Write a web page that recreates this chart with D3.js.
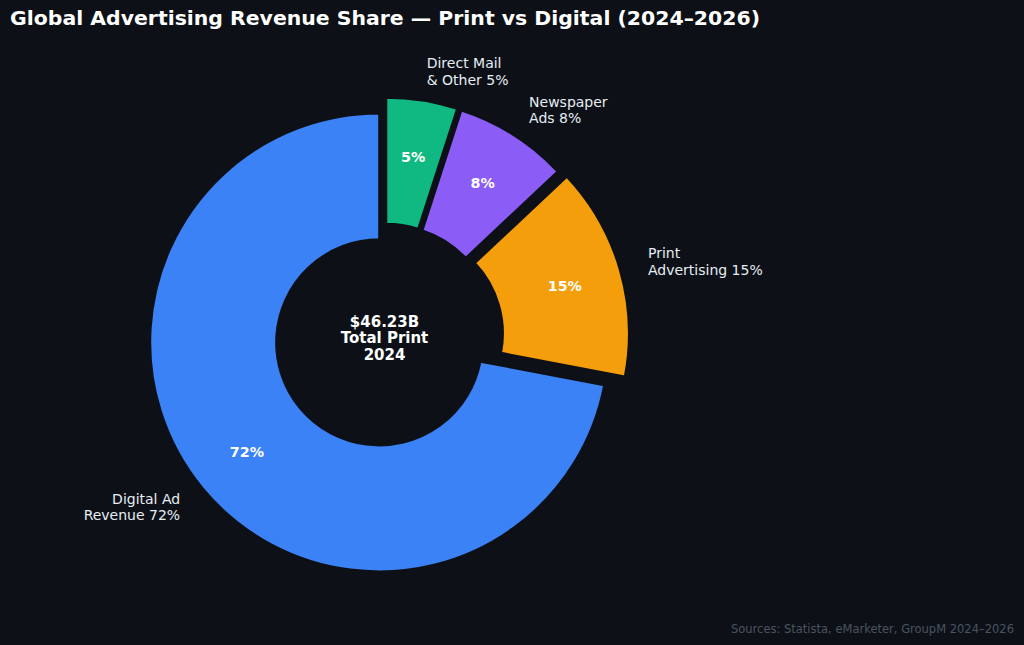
<!DOCTYPE html>
<html>
<head>
<meta charset="utf-8">
<script src="https://cdn.jsdelivr.net/npm/d3@7"></script>
<style>
  html, body { margin: 0; padding: 0; background: #0d1117; }
  svg { display: block; font-family: "DejaVu Sans", sans-serif; }
</style>
</head>
<body>
<svg id="chart" width="1024" height="645"></svg>
<script>
/* Data
   ========================================================================== */
var categories = ["Digital Ad Revenue", "Print Advertising", "Newspaper Ads", "Direct Mail & Other"];
// outer labels are split on two lines like the original
var labelLines = [["Digital Ad", "Revenue 72%"], ["Print", "Advertising 15%"], ["Newspaper", "Ads 8%"], ["Direct Mail", "& Other 5%"]];
var shares = [72, 15, 8, 5];
var explode = [0.03, 0.07, 0.05, 0.05];
var colors = ["#3b82f6", "#f59e0b", "#8b5cf6", "#10b981"];
var centerLines = ["$46.23B", "Total Print", "2024"];

/* Setup
   ========================================================================== */
var width = 1024, height = 645;
var cx = 384.5, cy = 338;
var radius = 229,
    inner = radius * 0.45;

var svg = d3.select("#chart");

svg.append("rect")
    .attr("width", width)
    .attr("height", height)
    .attr("fill", "#0d1117");

// Title
svg.append("text")
    .attr("x", 10)
    .attr("y", 25)
    .attr("fill", "#ffffff")
    .attr("font-size", 20)
    .attr("font-weight", "bold")
    .attr("textLength", 750)
    .attr("lengthAdjust", "spacingAndGlyphs")
    .text("Global Advertising Revenue Share \u2014 Print vs Digital (2024\u20132026)");

// Pie goes counter-clockwise from 12 o'clock (matplotlib style)
var pie = d3.pie()
    .sort(null)
    .startAngle(0)
    .endAngle(-2 * Math.PI)
    .value(function(d) { return d; });

var arcs = pie(shares);
arcs.forEach(function(d, i) {
    d.mid = (d.startAngle + d.endAngle) / 2;
    var off = explode[i] * radius;
    d.dx = Math.sin(d.mid) * off;
    d.dy = -Math.cos(d.mid) * off;
});

var arc = d3.arc()
    .innerRadius(inner)
    .outerRadius(radius);

var g = svg.append("g")
    .attr("transform", "translate(" + cx + "," + cy + ")");

// Wedges
g.selectAll(".slice")
    .data(arcs)
    .enter().append("path")
    .attr("class", "slice")
    .attr("transform", function(d) { return "translate(" + d.dx + "," + d.dy + ")"; })
    .attr("d", arc)
    .attr("fill", function(d, i) { return colors[i]; })
    .attr("stroke", "#0d1117")
    .attr("stroke-width", 2);

// Percent labels inside wedges
var pctR = radius * 0.75;
g.selectAll(".pct")
    .data(arcs)
    .enter().append("text")
    .attr("class", "pct")
    .attr("x", function(d) { return d.dx + Math.sin(d.mid) * pctR; })
    .attr("y", function(d) { return d.dy - Math.cos(d.mid) * pctR; })
    .attr("dy", "0.35em")
    .attr("text-anchor", "middle")
    .attr("fill", "#ffffff")
    .attr("font-size", 14.3)
    .attr("font-weight", "bold")
    .text(function(d, i) { return shares[i] + "%"; });

// Outer labels
var labR = radius * 1.128;
var labels = g.selectAll(".lab")
    .data(arcs)
    .enter().append("text")
    .attr("class", "lab")
    .attr("fill", "#e6edf3")
    .attr("font-size", 14)
    .attr("text-anchor", function(d) { return Math.sin(d.mid) < 0 ? "end" : "start"; })
    .attr("transform", function(d) {
        var x = d.dx + Math.sin(d.mid) * labR,
            y = d.dy - Math.cos(d.mid) * labR;
        return "translate(" + x + "," + y + ")";
    });

labels.selectAll("tspan")
    .data(function(d, i) { return labelLines[i]; })
    .enter().append("tspan")
    .attr("x", 0)
    .attr("y", function(d, j) { return (j - 0.5) * 16.5; })
    .attr("dy", "0.35em")
    .text(function(d) { return d; });

// Centre text
g.append("text")
    .attr("text-anchor", "middle")
    .attr("fill", "#ffffff")
    .attr("font-size", 15)
    .attr("font-weight", "bold")
    .selectAll("tspan")
    .data(centerLines)
    .enter().append("tspan")
    .attr("x", 0)
    .attr("y", function(d, j) { return (j - 1) * 16.5; })
    .attr("dy", "0.35em")
    .text(function(d) { return d; });

// Source note
svg.append("text")
    .attr("x", 1014)
    .attr("y", 633)
    .attr("text-anchor", "end")
    .attr("fill", "#4b5260")
    .attr("font-size", 11.5)
    .text("Sources: Statista, eMarketer, GroupM 2024\u20132026");
</script>
</body>
</html>
